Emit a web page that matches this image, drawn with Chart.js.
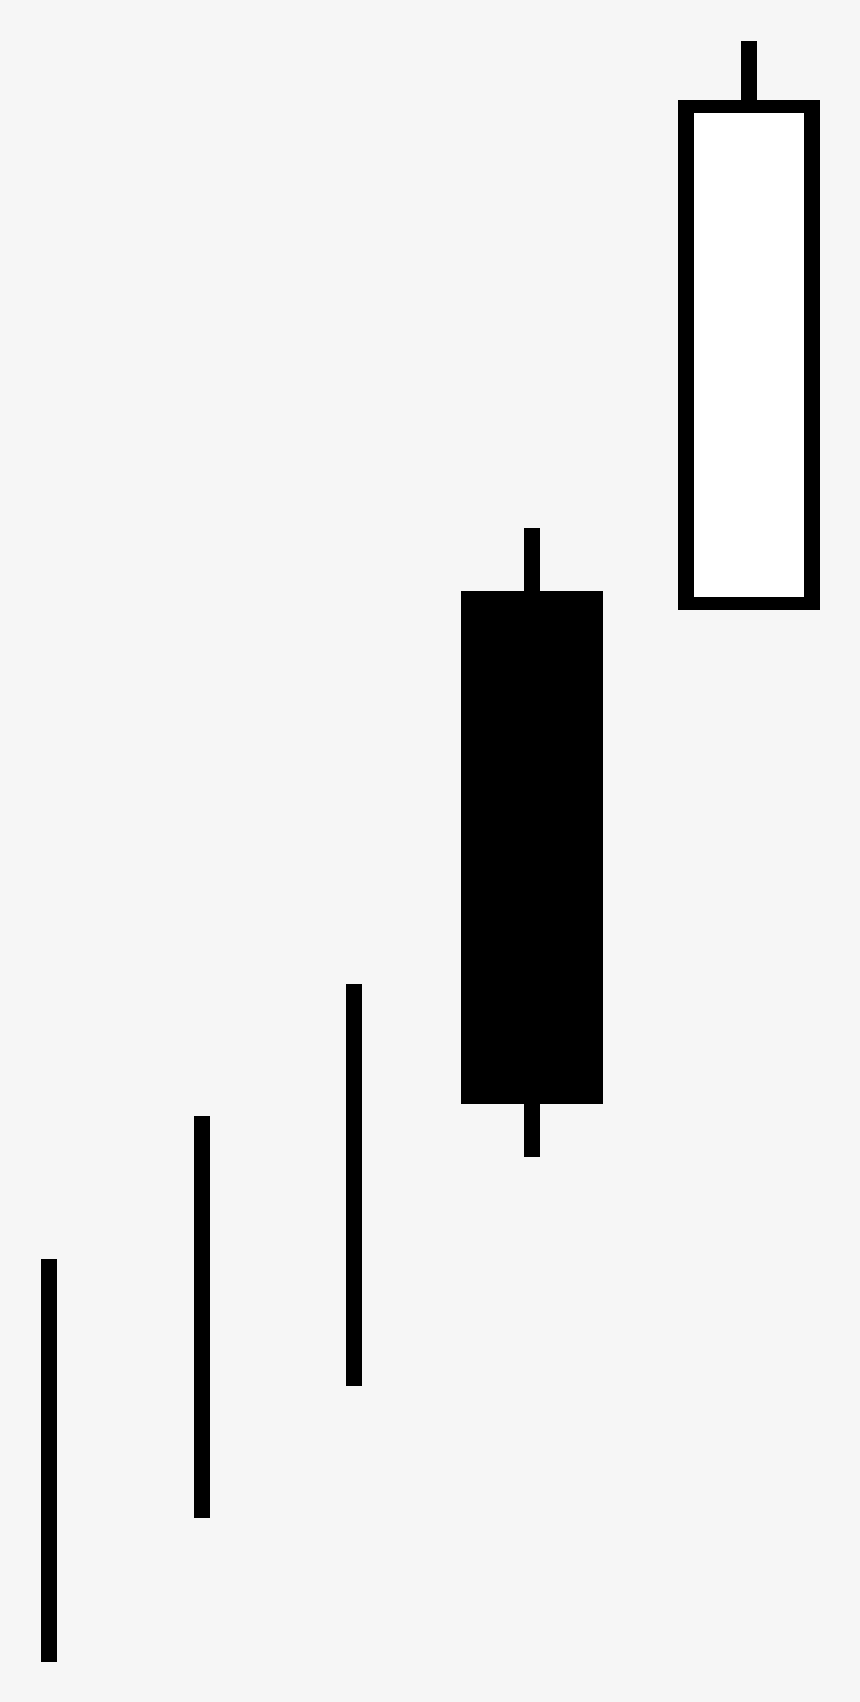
<!DOCTYPE html>
<html>
<head>
<meta charset="utf-8">
<script src="https://cdn.jsdelivr.net/npm/chart.js@4.4.0/dist/chart.umd.min.js"></script>
<style>
  html, body { margin: 0; padding: 0; background: #f6f6f6; overflow: hidden; }
  canvas { display: block; background: #f6f6f6; }
</style>
</head>
<body>
<canvas id="c" width="860" height="1702"></canvas>
<script>
// Session positions (x) and price values
const sessions = [0.49, 2.02, 3.54, 5.32, 7.49];
const lows     = [4.0, 18.4, 31.6, 54.5, 109.2];
const highs    = [44.3, 58.6, 71.8, 117.4, 166.1];
const opens    = [null, null, null, 111.1, 109.2];
const closes   = [null, null, null, 59.8, 160.2];

const wickData = sessions.map((x, i) => ({ x: x, y: [lows[i], highs[i]] }));
const bodyData = [];
const bodyFill = [];
const bodyBorder = [];
sessions.forEach((x, i) => {
  if (opens[i] !== null && closes[i] !== null) {
    bodyData.push({ x: x, y: [opens[i], closes[i]] });
    const up = closes[i] > opens[i];
    bodyFill.push(up ? '#ffffff' : '#000000');
    bodyBorder.push(up ? { left: 16, right: 16, top: 13, bottom: 13 } : 0);
  }
});

new Chart(document.getElementById('c'), {
  type: 'bar',
  data: {
    datasets: [
      {
        label: 'body',
        data: bodyData,
        backgroundColor: bodyFill,
        borderColor: '#000000',
        borderWidth: bodyBorder,
        borderSkipped: false,
        inflateAmount: 0,
        barThickness: 142,
        grouped: false,
        order: 0
      },
      {
        label: 'wick',
        data: wickData,
        backgroundColor: '#000000',
        borderWidth: 0,
        borderSkipped: false,
        inflateAmount: 0,
        barThickness: 16,
        grouped: false,
        order: 1
      }
    ]
  },
  options: {
    responsive: false,
    animation: false,
    devicePixelRatio: 1,
    layout: { padding: 0 },
    plugins: { legend: { display: false }, tooltip: { enabled: false } },
    scales: {
      x: { type: 'linear', min: 0, max: 8.6, offset: false, display: false },
      y: { type: 'linear', min: 0, max: 170.2, display: false }
    }
  }
});
</script>
</body>
</html>
